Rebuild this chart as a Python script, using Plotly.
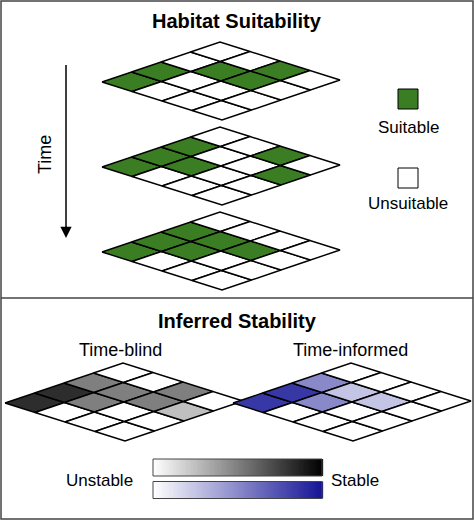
import plotly.graph_objects as go
import numpy as np

# green (suitable) cells per time layer, as (a, b): a = up-right index, b = down-right index
layer_top = [(0, 0), (1, 0), (2, 1), (2, 2), (3, 2)]
layer_mid = [(0, 0), (1, 0), (2, 0), (1, 1), (3, 2), (2, 3)]
layer_bot = [(0, 0), (1, 0), (2, 0), (1, 1), (2, 1), (2, 2)]

# inferred stability levels (0..1) per cell
blind_levels = {(0, 0): 0.82, (1, 0): 0.82, (2, 0): 0.5, (1, 1): 0.5, (2, 1): 0.5,
                (2, 2): 0.5, (3, 2): 0.5, (2, 3): 0.25}
informed_levels = {(0, 0): 0.85, (1, 0): 0.85, (2, 0): 0.5, (1, 1): 0.5,
                   (2, 1): 0.25, (2, 2): 0.25}

U = np.array([29.5, -10.0])
V = np.array([30.0, 9.5])

fig = go.Figure()


def cell(origin, a, b, color):
    o = np.array(origin)
    pts = [o + a * U + b * V, o + (a + 1) * U + b * V,
           o + (a + 1) * U + (b + 1) * V, o + a * U + (b + 1) * V]
    pts.append(pts[0])
    fig.add_trace(go.Scatter(x=[p[0] for p in pts], y=[p[1] for p in pts],
                             mode="lines", fill="toself", fillcolor=color,
                             line=dict(color="black", width=1.4), hoverinfo="skip"))


def grid(origin, colors):
    for a in range(4):
        for b in range(4):
            cell(origin, a, b, colors.get((a, b), "white"))


green = "#3a7d22"
for origin, cells in [((102, 82), layer_top), ((102, 167), layer_mid), ((102, 252), layer_bot)]:
    grid(origin, {c: green for c in cells})


def gray(v):
    g = int(255 * (1 - v))
    return f"rgb({g},{g},{g})"


def blue(v):
    r = int(255 - v * (255 - 20))
    gg = int(255 - v * (255 - 20))
    bb = int(255 - v * (255 - 150))
    return f"rgb({r},{gg},{bb})"


grid((5, 403), {k: gray(v) for k, v in blind_levels.items()})
grid((233, 403), {k: blue(v) for k, v in informed_levels.items()})

# gradient bars
ramp = np.linspace(0, 1, 100)
xs = np.linspace(153, 322, 100)
fig.add_trace(go.Heatmap(z=[ramp, ramp], x=xs, y=[463.25, 471.75],
                         colorscale=[[0, "white"], [1, "black"]], showscale=False,
                         hoverinfo="skip"))
fig.add_trace(go.Heatmap(z=[ramp, ramp], x=xs, y=[485.75, 494.25],
                         colorscale=[[0, "white"], [1, "#141496"]], showscale=False,
                         hoverinfo="skip"))

shapes = [
    dict(type="rect", x0=1, y0=1, x1=473, y1=519, line=dict(color="#444", width=1.5)),
    dict(type="line", x0=1, y0=298, x1=473, y1=298, line=dict(color="#444", width=1.5)),
    dict(type="rect", x0=153, y0=459, x1=322, y1=476, line=dict(color="#444", width=1)),
    dict(type="rect", x0=153, y0=481.5, x1=322, y1=498.5, line=dict(color="#444", width=1)),
    dict(type="rect", x0=398, y0=89, x1=418, y1=109, fillcolor=green, line=dict(color="black", width=1)),
    dict(type="rect", x0=398, y0=168, x1=418, y1=188, fillcolor="white", line=dict(color="black", width=1)),
    dict(type="line", x0=66, y0=65, x1=66, y1=232, line=dict(color="black", width=1.5)),
]

F = "Liberation Sans, Arial, sans-serif"
ann = [
    dict(x=237, y=21, text="<b>Habitat Suitability</b>", size=20),
    dict(x=237, y=321, text="<b>Inferred Stability</b>", size=20),
    dict(x=120, y=350, text="Time-blind", size=18),
    dict(x=350, y=350, text="Time-informed", size=18),
    dict(x=408, y=127, text="Suitable", size=17),
    dict(x=408, y=203, text="Unsuitable", size=17),
    dict(x=99, y=480, text="Unstable", size=17),
    dict(x=355, y=480, text="Stable", size=17),
]
annotations = [dict(x=a["x"], y=a["y"], text=a["text"], showarrow=False, xref="x", yref="y",
                    font=dict(family=F, size=a["size"], color="black")) for a in ann]
annotations.append(dict(x=45, y=155, text="Time", textangle=-90, showarrow=False, xref="x", yref="y",
                        font=dict(family=F, size=18, color="black")))
annotations.append(dict(x=66, y=238, ax=66, ay=225, xref="x", yref="y", axref="x", ayref="y",
                        text="", showarrow=True, arrowhead=2, arrowsize=1.5, arrowwidth=1.5,
                        arrowcolor="black"))

fig.update_layout(width=474, height=520, margin=dict(l=0, r=0, t=0, b=0),
                  plot_bgcolor="white", paper_bgcolor="white", showlegend=False,
                  xaxis=dict(range=[0, 474], visible=False, fixedrange=True),
                  yaxis=dict(range=[520, 0], visible=False, fixedrange=True),
                  shapes=shapes, annotations=annotations)
fig.write_html("out.html", config={"displayModeBar": False})

# drop the browser's default page margin so the figure fills the window
with open("out.html") as f:
    html = f.read()
html = html.replace("<head>", "<head><style>html,body{margin:0;padding:0;overflow:hidden}</style>", 1)
with open("out.html", "w") as f:
    f.write(html)
